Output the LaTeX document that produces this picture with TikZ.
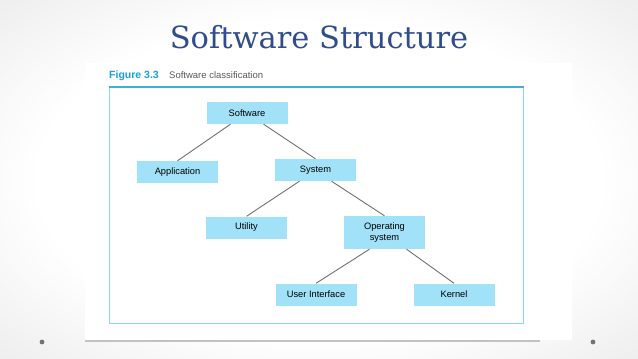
\documentclass[tikz,border=0pt]{standalone}
\usepackage{fontspec}
\setsansfont{Liberation Sans}
\newfontfamily\titlefont{DejaVu Serif}
\usepackage{xcolor}
\usepackage{tikz}
\usetikzlibrary{calc}
\definecolor{titleblue}{HTML}{2F4D8C}
\definecolor{boxcyan}{HTML}{A2E2F8}
\definecolor{figcyan}{HTML}{1AA0DA}
\definecolor{framecyan}{HTML}{8ED6EE}
\definecolor{linkgray}{HTML}{707070}
\pgfdeclareradialshading{slidebg}{\pgfpoint{0bp}{0bp}}{%
  color(0bp)=(white); color(22bp)=(white); color(50bp)=(black!14); color(70bp)=(black!20)}

\begin{document}
\begin{tikzpicture}[x=1pt, y=-1pt,
    box/.style={fill=boxcyan, minimum width=81pt, minimum height=22pt, inner sep=0pt,
      align=center, font=\sffamily\fontsize{9.3}{10.5}\selectfont},
    link/.style={linkgray, line width=0.9pt}]
  % slide background
  \shade[shading=slidebg] (0,0) rectangle (638,359);
  \fill[white] (85,63) rectangle (572,340);
  \draw[black!24, line width=1.6pt] (85,341) -- (540,341);
  \fill[black!55] (42,342) circle (2.4);
  \fill[black!55] (593,342) circle (2.4);

  \node[anchor=base, text=titleblue, font=\titlefont\fontsize{30.5}{36}\selectfont] (title) at (319,48) {Software Structure};

  % figure caption and frame
  \node[anchor=base west, inner sep=0pt, text=figcyan, font=\sffamily\bfseries\fontsize{10.5}{12}\selectfont] (fig) at (109,78) {Figure 3.3};
  \node[anchor=base west, inner sep=0pt, text=black!65, font=\sffamily\fontsize{9.5}{11}\selectfont] (cap) at (169,78) {Software classification};
  \draw[framecyan, line width=1pt] (109,87) -- (109,323) -- (523,323) -- (523,87);
  \draw[figcyan!85, line width=2pt] (108.5,87) -- (523.5,87);

  % classification tree
  \node[box] (soft) at (247,113) {Software};
  \node[box] (app) at (177.5,172) {Application};
  \node[box] (sys) at (315.5,170) {System};
  \node[box] (util) at (246.5,227.5) {Utility};
  \node[box, minimum height=33pt] (opsys) at (384.5,232.5) {Operating\\system};
  \node[box] (ui) at (316,294.5) {User Interface};
  \node[box] (kern) at (454,294.5) {Kernel};

  \draw[link] ([xshift=-16.5pt]soft.south) -- (app.north);
  \draw[link] ([xshift=16.5pt]soft.south) -- (sys.north);
  \draw[link] ([xshift=-16pt]sys.south) -- (util.north);
  \draw[link] ([xshift=16pt]sys.south) -- (opsys.north);
  \draw[link] ([xshift=-15pt]opsys.south) -- (ui.north);
  \draw[link] ([xshift=22pt]opsys.south) -- (kern.north);
\end{tikzpicture}
\end{document}
